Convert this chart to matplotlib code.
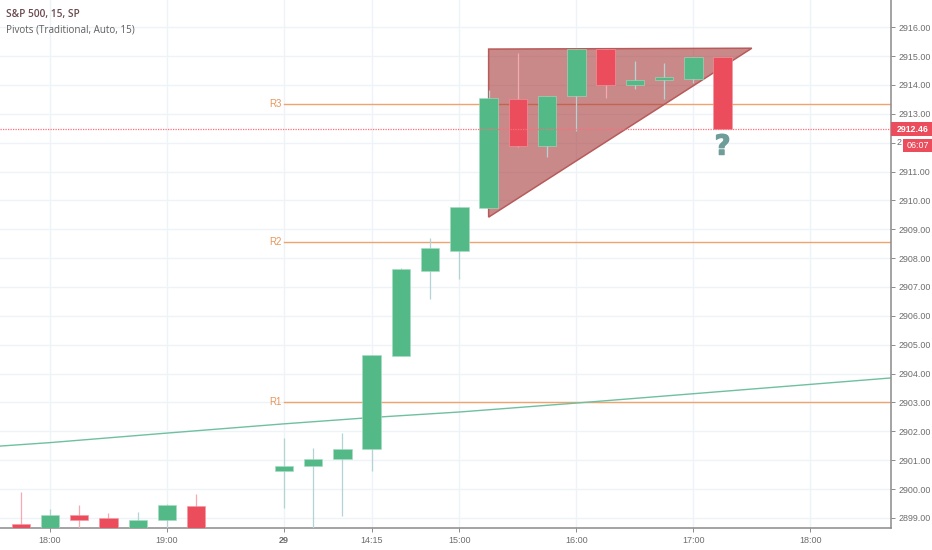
import matplotlib
matplotlib.use("Agg")
import matplotlib.pyplot as plt
import matplotlib.patheffects as pe
from matplotlib.patches import Polygon, Rectangle

W, H = 932, 550
# bar slot index: one slot = 15 minutes; slots 6 and 7 are the session gap
idx   = [-1, 0, 1, 2, 3, 4, 5, 8, 9, 10, 11, 12, 13, 14, 15, 16, 17, 18, 19, 20, 21, 22, 23]
opens = [2898.79, 2898.60, 2899.11, 2898.99, 2898.60, 2898.92, 2899.43, 2900.63, 2900.79, 2901.05,
         2901.40, 2904.60, 2907.55, 2908.24, 2909.75, 2913.51, 2911.89, 2913.63, 2915.24, 2913.98,
         2914.18, 2914.20, 2914.96]
closes = [2898.60, 2899.11, 2898.94, 2898.60, 2898.93, 2899.45, 2898.60, 2900.81, 2901.05, 2901.39,
          2904.66, 2907.61, 2908.35, 2909.77, 2913.53, 2911.89, 2913.63, 2915.23, 2913.99, 2914.17,
          2914.26, 2914.96, 2912.48]
highs = [2899.91, 2899.31, 2899.45, 2899.18, 2899.21, 2899.50, 2899.83, 2901.77, 2901.42, 2901.95,
         2904.66, 2907.66, 2908.69, 2909.77, 2913.82, 2915.09, 2913.63, 2915.23, 2915.24, 2914.84,
         2914.76, 2914.96, 2914.96]
lows  = [2898.60, 2898.60, 2898.65, 2898.60, 2898.60, 2898.65, 2898.60, 2899.35, 2898.60, 2899.07,
         2900.64, 2904.60, 2906.60, 2907.28, 2909.75, 2911.86, 2911.51, 2912.40, 2913.53, 2913.86,
         2913.51, 2914.05, 2912.48]
ma_x = [-1.71, 0, 4, 8, 11, 14, 18, 28.76]
ma_y = [2901.49, 2901.61, 2901.94, 2902.26, 2902.48, 2902.67, 2902.98, 2903.85]
pivot_names  = ["R1", "R2", "R3"]
pivot_values = [2903.03, 2908.55, 2913.33]
pivot_start = 8
tri_x = [15, 15, 24.0]
tri_y = [2915.24, 2909.42, 2915.27]
last_price = 2912.46
xtick_pos = [0, 4, 8, 11, 14, 18, 22, 26]
xtick_labels = ["18:00", "19:00", "29", "14:15", "15:00", "16:00", "17:00", "18:00"]
ytick_vals = list(range(2899, 2917))

GREEN, RED = "#53b987", "#eb4d5c"
FONT = "Liberation Sans"

fig = plt.figure(figsize=(W/100, H/100), dpi=100, facecolor="white")
ax = fig.add_axes([0, 22.5/H, 891/W, 1-22.5/H])
ax.set_xlim(-1.71, 28.76)
ax.set_ylim(2898.67, 2916.94)
for s in ("top", "left"):
    ax.spines[s].set_visible(False)
for s in ("bottom", "right"):
    ax.spines[s].set_color("#8a8a8a")
    ax.spines[s].set_linewidth(1.1)

ax.set_xticks(xtick_pos)
ax.set_xticklabels(xtick_labels, fontsize=6.5, color="#6d6d6d", family=FONT)
ax.get_xticklabels()[2].set_fontweight("bold")
ax.yaxis.tick_right()
ax.set_yticks(ytick_vals)
ytl = ax.set_yticklabels([f"{v}.00" for v in ytick_vals], fontsize=6.4, color="#6d6d6d", family=FONT)
ytl[ytick_vals.index(2912)].set_visible(False)
ax.tick_params(axis="x", length=3, width=0.7, color="#8a8a8a", pad=3)
ax.tick_params(axis="y", length=3, width=0.7, color="#8a8a8a", pad=2.5)
ax.grid(True, color="#eef3f7", linewidth=1.0, zorder=0)
ax.set_axisbelow(True)

for n, v in zip(pivot_names, pivot_values):
    ax.plot([pivot_start, 28.76], [v, v], color="#f0a36e", lw=1.0, zorder=1.5)
    ax.text(pivot_start - 0.07, v, n, ha="right", va="center", fontsize=7,
            color="#e8965a", family=FONT)
ax.plot(ma_x, ma_y, color="#6fc0a0", lw=1.0, zorder=1.6)

ax.add_patch(Polygon(list(zip(tri_x, tri_y)), closed=True, facecolor="#a63a3a",
                     alpha=0.6, edgecolor="none", zorder=3))
ax.add_patch(Polygon(list(zip(tri_x, tri_y)), closed=True, fill=False,
                     edgecolor="#b85a5a", lw=1.1, zorder=3.1))

for i, o, h, l, c in zip(idx, opens, highs, lows, closes):
    up = c >= o
    ax.plot([i, i], [l, h], lw=0.9, color="#b3d3d5" if up else "#f6a9b0", zorder=3.5,
            solid_capstyle="butt")

for i, o, c in zip(idx, opens, closes):
    up = c >= o
    ax.add_patch(Rectangle((i-0.315, min(o, c)), 0.63, abs(c-o), facecolor=GREEN if up else RED,
                           edgecolor="#a9dcc4" if up else "#f39aa3", lw=0.4, zorder=4))

ax.axhline(last_price, color="#ff6d7a", lw=0.9, ls=(0, (1, 1)), zorder=5)

ax.text(23, 2911.86, "?", ha="center", va="center", fontsize=20, fontweight="bold",
        color="#6f9d9a", family="DejaVu Sans", zorder=6,
        path_effects=[pe.withStroke(linewidth=0.8, foreground="#6f9d9a")])

fig.text(6/W, 1-15/H, "S&P 500, 15, SP", fontsize=7.3, color="#6b4a4f", family="Open Sans",
         fontweight="semibold", va="center")
fig.text(6/W, 1-30/H, "Pivots (Traditional, Auto, 15)", fontsize=7.1, color="#5f5f5f",
         family="Open Sans", va="center")

# price tags
fig.add_artist(Rectangle((891/W, 1-136/H), 41/W, 14/H, transform=fig.transFigure,
                         facecolor=RED, edgecolor="none", zorder=10))
fig.text(912.5/W, 1-129/H, "2912.46", fontsize=6.4, color="white", family=FONT, fontweight="bold",
         ha="center", va="center", zorder=11)
# axis label for 2912 is partly hidden by the countdown tag in the reference
fig.text(897/W, 1-142.5/H, "2", fontsize=6.4, color="#6d6d6d", family=FONT, va="center", zorder=9)
fig.add_artist(Rectangle((903/W, 1-152/H), 29/W, 13/H, transform=fig.transFigure,
                         facecolor=RED, edgecolor="none", zorder=10))
fig.text(917.5/W, 1-145.5/H, "06:07", fontsize=6.4, color="white", family=FONT,
         ha="center", va="center", zorder=11)

fig.savefig("out.png", dpi=100)
